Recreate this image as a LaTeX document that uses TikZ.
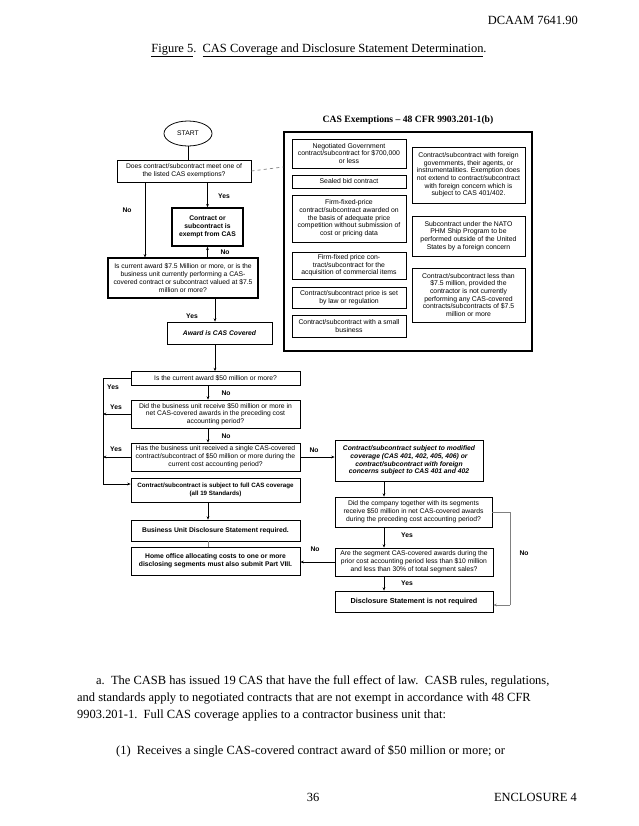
\documentclass[tikz,border=0pt]{standalone}
\usepackage{fontspec}
\setmainfont{Liberation Serif}
\newfontfamily\arial{Liberation Sans}
\usetikzlibrary{shapes.geometric,arrows.meta}
\newcommand{\fcs}{\fontsize{6.5}{7.5}\selectfont}
\newcommand{\exs}{\fontsize{6.6}{7.4}\selectfont}
\begin{document}
\begin{tikzpicture}[x=0.959bp,y=-0.959bp,
  body/.style={anchor=base west, inner sep=0pt, font=\fontsize{12}{14}\selectfont},
  sz/.style 2 args={minimum width=#1*0.959bp, minimum height=#2*0.959bp},
  fbox/.style={draw, line width=0.75pt, inner sep=0pt, align=center, font=\arial\fcs},
  fbold/.style={fbox, font=\arial\bfseries\fcs},
  fbi/.style={fbox, font=\arial\bfseries\itshape\fcs},
  exbx/.style={draw, line width=0.55pt, inner sep=0pt, align=center, font=\arial\exs},
  exouter/.style={draw, line width=1.4pt, inner sep=0pt},
  lbl/.style={inner sep=0pt, font=\arial\bfseries\fcs},
  arr/.style={-{Stealth[length=3.2pt,width=2.6pt]}, line width=0.65pt},
  ln/.style={line width=0.65pt}]
\fill[white] (0,0) rectangle (638,826);
\useasboundingbox (0,0) rectangle (638,826);

% header
\node[body, anchor=base east] (hdr) at (578,24) {DCAAM 7641.90};
\node[body, anchor=base] (fig) at (319,52) {\underline{Figure 5}.\ \ \underline{CAS Coverage and Disclosure Statement Determination}.};

% exemptions
\node[inner sep=0pt, font=\bfseries\fontsize{9.3}{10}\selectfont] (extitle) at (408,120) {CAS Exemptions -- 48 CFR 9903.201-1(b)};
\node[exouter, sz={248}{219}] (exo) at (408,241.5) {};
\node[exbx, sz={114}{29}] (exa) at (349,153.5) {Negotiated Government\\contract/subcontract for \$700,000\\or less};
\node[exbx, sz={114}{13}] (exsb) at (349,181.5) {Sealed bid contract};
\node[exbx, sz={114}{47}] (exc) at (349,218.5) {Firm-fixed-price\\contract/subcontract awarded on\\the basis of adequate price\\competition without submission of\\cost or pricing data};
\node[exbx, sz={114}{27}] (exg) at (349,265.5) {Firm-fixed price con-\\tract/subcontract for the\\acquisition of commercial items};
\node[exbx, sz={114}{21}] (exh) at (349,297.5) {Contract/subcontract price is set\\by law or regulation};
\node[exbx, sz={114}{22}] (exi) at (349,326) {Contract/subcontract with a small\\business};
\node[exbx, sz={113}{56}] (exd) at (468.5,175) {Contract/subcontract with foreign\\governments, their agents, or\\instrumentalities. Exemption does\\not extend to contract/subcontract\\with foreign concern which is\\subject to CAS 401/402.};
\node[exbx, sz={113}{40}] (exe) at (468.5,236) {Subcontract under the NATO\\PHM Ship Program to be\\performed outside of the United\\States by a foreign concern};
\node[exbx, sz={113}{54}] (exf) at (468.5,295) {Contract/subcontract less than\\\$7.5 million, provided the\\contractor is not currently\\performing any CAS-covered\\contracts/subcontracts of \$7.5\\million or more};

% flowchart nodes
\node[fbox, ellipse, sz={48}{25}] (start) at (188,133.5) {START};
\node[fbox, sz={134}{22}] (q1) at (184,171) {Does contract/subcontract meet one of\\the listed CAS exemptions?};
\node[fbold, line width=1.3pt, sz={71}{38}] (ex) at (207.5,227) {Contract or\\subcontract is\\exempt from CAS};
\node[fbox, line width=1.1pt, sz={150}{40}] (q2) at (183,278) {Is current award \$7.5 Million or more, or is the\\business unit currently performing a CAS-\\covered contract or subcontract valued at \$7.5\\million or more?};
\node[fbi, sz={105}{22}] (award) at (219.5,333) {Award is CAS Covered};
\node[fbox, sz={169}{14}] (q3) at (215.5,378.5) {Is the current award \$50 million or more?};
\node[fbox, sz={169}{28}] (q4) at (215.5,414) {Did the business unit receive \$50 million or more in\\net CAS-covered awards in the preceding cost\\accounting period?};
\node[fbox, sz={169}{28}] (q5) at (215.5,457) {Has the business unit received a single CAS-covered\\contract/subcontract of \$50 million or more during the\\current cost accounting period?};
\node[fbold, font=\arial\bfseries\fontsize{6}{8}\selectfont, sz={169}{24}] (full) at (215.5,490) {Contract/subcontract is subject to full CAS coverage\\(all 19 Standards)};
\node[fbold, sz={169}{21}] (bu) at (215.5,530.5) {Business Unit Disclosure Statement required.};
\node[fbold, sz={169}{28}] (ho) at (215.5,561) {Home office allocating costs to one or more\\disclosing segments must also submit Part VIII.};
\node[fbi, sz={148}{41}] (mod) at (409,460.5) {Contract/subcontract subject to modified\\coverage (CAS 401, 402, 405, 406) or\\contract/subcontract with foreign\\concerns subject to CAS 401 and 402};
\node[fbox, sz={157}{30}] (q6) at (413.5,512) {Did the company together with its segments\\receive \$50 million in net CAS-covered awards\\during the preceding cost accounting period?};
\node[fbox, sz={158}{28}] (q7) at (414,562) {Are the segment CAS-covered awards during the\\prior cost accounting period less than \$10 million\\and less than 30\% of total segment sales?};
\node[fbold, font=\arial\bfseries\fontsize{7}{8}\selectfont, sz={158}{21}] (final) at (414,601.5) {Disclosure Statement is not required};

% helper coordinates
\coordinate (c103) at (103,0);
\coordinate (c145) at (145,0);
\coordinate (c208) at (208,0);
\coordinate (c215) at (215,0);
\coordinate (c384) at (384,0);
\coordinate (c510) at (510,0);
\coordinate (r167) at (0,167);
\coordinate (r484) at (0,484);
\coordinate (r605) at (0,605);

% connectors
\draw[ln] (start.south) -- (start.south |- q1.north);
\draw[ln, dashed, gray] (q1.east) -- (exo.west |- r167);
\draw[arr] (q1.south -| ex.north) -- (ex.north);
\draw[arr] (q1.south -| c145) -- (q2.north -| c145);
\draw[arr] (q2.north -| ex.south) -- (ex.south);
\draw[arr] (q2.south -| c215) -- (award.north -| c215);
\draw[arr] (award.south -| c215) -- (q3.north -| c215);
\draw[arr] (q3.south -| c208) -- (q4.north -| c208);
\draw[arr] (q4.south -| c208) -- (q5.north -| c208);
\draw[ln] (q3.west) -- (q3.west -| c103) -- (c103 |- r484);
\draw[arr] (c103 |- r484) -- (full.west |- r484);
\draw[arr] (q4.west) -- (q4.west -| c103);
\draw[arr] (q5.west) -- (q5.west -| c103);
\draw[arr] (q5.east) -- (q5.east -| mod.west);
\draw[arr] (full.south -| c208) -- (bu.north -| c208);
\draw[ln, line width=0.4pt, gray] (bu.south -| c208) -- (ho.north -| c208);
\draw[arr] (mod.south -| c384) -- (q6.north -| c384);
\draw[arr] (q6.south -| c384) -- (q7.north -| c384);
\draw[arr] (q7.south -| c384) -- (final.north -| c384);
\draw[arr] (q7.west) -- (q7.west -| ho.east);
\draw[ln, gray] (q6.east) -- (q6.east -| c510) -- (c510 |- r605);
\draw[arr, gray] (c510 |- r605) -- (final.east |- r605);

% labels
\node[lbl] (l1) at (127,210) {No};
\node[lbl] (l2) at (224,196) {Yes};
\node[lbl] (l3) at (225,252) {No};
\node[lbl] (l4) at (192,316) {Yes};
\node[lbl] (l5) at (113,387) {Yes};
\node[lbl] (l6) at (226,393) {No};
\node[lbl] (l7) at (116,407) {Yes};
\node[lbl] (l8) at (226,436) {No};
\node[lbl] (l9) at (116,449) {Yes};
\node[lbl] (l10) at (314,450) {No};
\node[lbl] (l11) at (407,535) {Yes};
\node[lbl] (l12) at (315,549) {No};
\node[lbl] (l13) at (407,583) {Yes};
\node[lbl] (l14) at (524,553) {No};

% body text
\node[body] (p1) at (96,684) {a.\ \ The CASB has issued 19 CAS that have the full effect of law.\ \ CASB rules, regulations,};
\node[body] (p2) at (77,701) {and standards apply to negotiated contracts that are not exempt in accordance with 48 CFR};
\node[body] (p3) at (77,718) {9903.201-1.\ \ Full CAS coverage applies to a contractor business unit that:};
\node[body] (p4) at (116,754) {(1)\ \ Receives a single CAS-covered contract award of \$50 million or more; or};
\node[body, anchor=base] (pg) at (313,801) {36};
\node[body, anchor=base east] (encl) at (577,801) {ENCLOSURE 4};
\end{tikzpicture}
\end{document}
